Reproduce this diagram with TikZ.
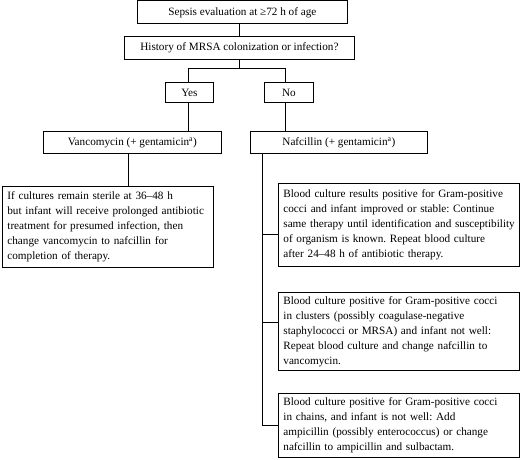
\documentclass[tikz,border=0pt]{standalone}
\usepackage{fontspec}
\setmainfont{Liberation Serif}
\frenchspacing
\newcommand{\oneln}[1]{\mbox{#1}}
\begin{document}
\begin{tikzpicture}[x=1pt,y=-1pt,
  line width=0.8pt,
  every node/.style={font=\fontsize{11.2}{15}\selectfont},
  onebox/.style={draw, inner sep=0pt, anchor=north west, align=center},
  textbox/.style={draw, inner xsep=5pt, inner ysep=0pt, anchor=north west, align=left},
  link/.style={draw, line width=0.8pt}
]
\useasboundingbox (0,0) rectangle (520,460);
\node[onebox, minimum width=210pt, minimum height=23pt] (b1) at (137,0.5) {Sepsis evaluation at ≥72 h of age};
\node[onebox, minimum width=230pt, minimum height=23pt] (b2) at (124,36) {History of MRSA colonization or infection?};
\node[onebox, minimum width=48pt, minimum height=20pt] (yes) at (165,82) {Yes};
\node[onebox, minimum width=49pt, minimum height=20pt] (no) at (264,82) {No};
\node[onebox, minimum width=178pt, minimum height=22pt] (vanc) at (43,131) {Vancomycin (+ gentamicin\textsuperscript{a})};
\node[onebox, minimum width=177pt, minimum height=22pt] (naf) at (250,131) {Nafcillin (+ gentamicin\textsuperscript{a})};
\node[textbox, text width=201pt, minimum height=81pt] (cult) at (2,186) {\oneln{If cultures remain sterile at 36–48 h}\\\oneln{but infant will receive prolonged antibiotic}\\\oneln{treatment for presumed infection, then}\\\oneln{change vancomycin to nafcillin for}\\\oneln{completion of therapy.}};
\node[textbox, text width=231pt, minimum height=83pt] (ra) at (278,183) {\oneln{Blood culture results positive for Gram-positive}\\\oneln{cocci and infant improved or stable: Continue}\\\oneln{same therapy until identification and susceptibility}\\\oneln{of organism is known. Repeat blood culture}\\\oneln{after 24–48 h of antibiotic therapy.}};
\node[textbox, text width=231pt, minimum height=78pt] (rb) at (278,292) {\oneln{Blood culture positive for Gram-positive cocci}\\\oneln{in clusters (possibly coagulase-negative}\\\oneln{staphylococci or MRSA) and infant not well:}\\\oneln{Repeat blood culture and change nafcillin to}\\\oneln{vancomycin.}};
\node[textbox, text width=231pt, minimum height=64pt] (rc) at (278,393) {\oneln{Blood culture positive for Gram-positive cocci}\\\oneln{in chains, and infant is not well: Add}\\\oneln{ampicillin (possibly enterococcus) or change}\\\oneln{nafcillin to ampicillin and sulbactam.}};
% connectors
\draw[link] (b2.north) -- (b2.north |- b1.south);
\coordinate (split) at ([yshift=-9pt]b2.south);
\draw[link] (b2.south) -- (split);
\draw[link] (split) -| ([xshift=-1pt]yes.north);
\draw[link] (split) -| ([xshift=-3.5pt]no.north);
\draw[link] ([xshift=-1pt]yes.south) -- ([xshift=-1pt]yes.south |- vanc.north);
\draw[link] ([xshift=-3.5pt]no.south) -- ([xshift=-3.5pt]no.south |- naf.north);
\draw[link] ([xshift=-4pt]vanc.south) -- ([xshift=-4pt]vanc.south |- cult.north);
\coordinate (t) at ([xshift=12pt]naf.south west);
\coordinate (ja) at ([yshift=-9.5pt]ra.west);
\coordinate (jb) at ([yshift=9pt]rb.west);
\coordinate (jc) at (rc.west);
\draw[link] (t) -- (t |- jc) -- (jc);
\draw[link] (t |- ja) -- (ja);
\draw[link] (t |- jb) -- (jb);
\end{tikzpicture}
\end{document}
